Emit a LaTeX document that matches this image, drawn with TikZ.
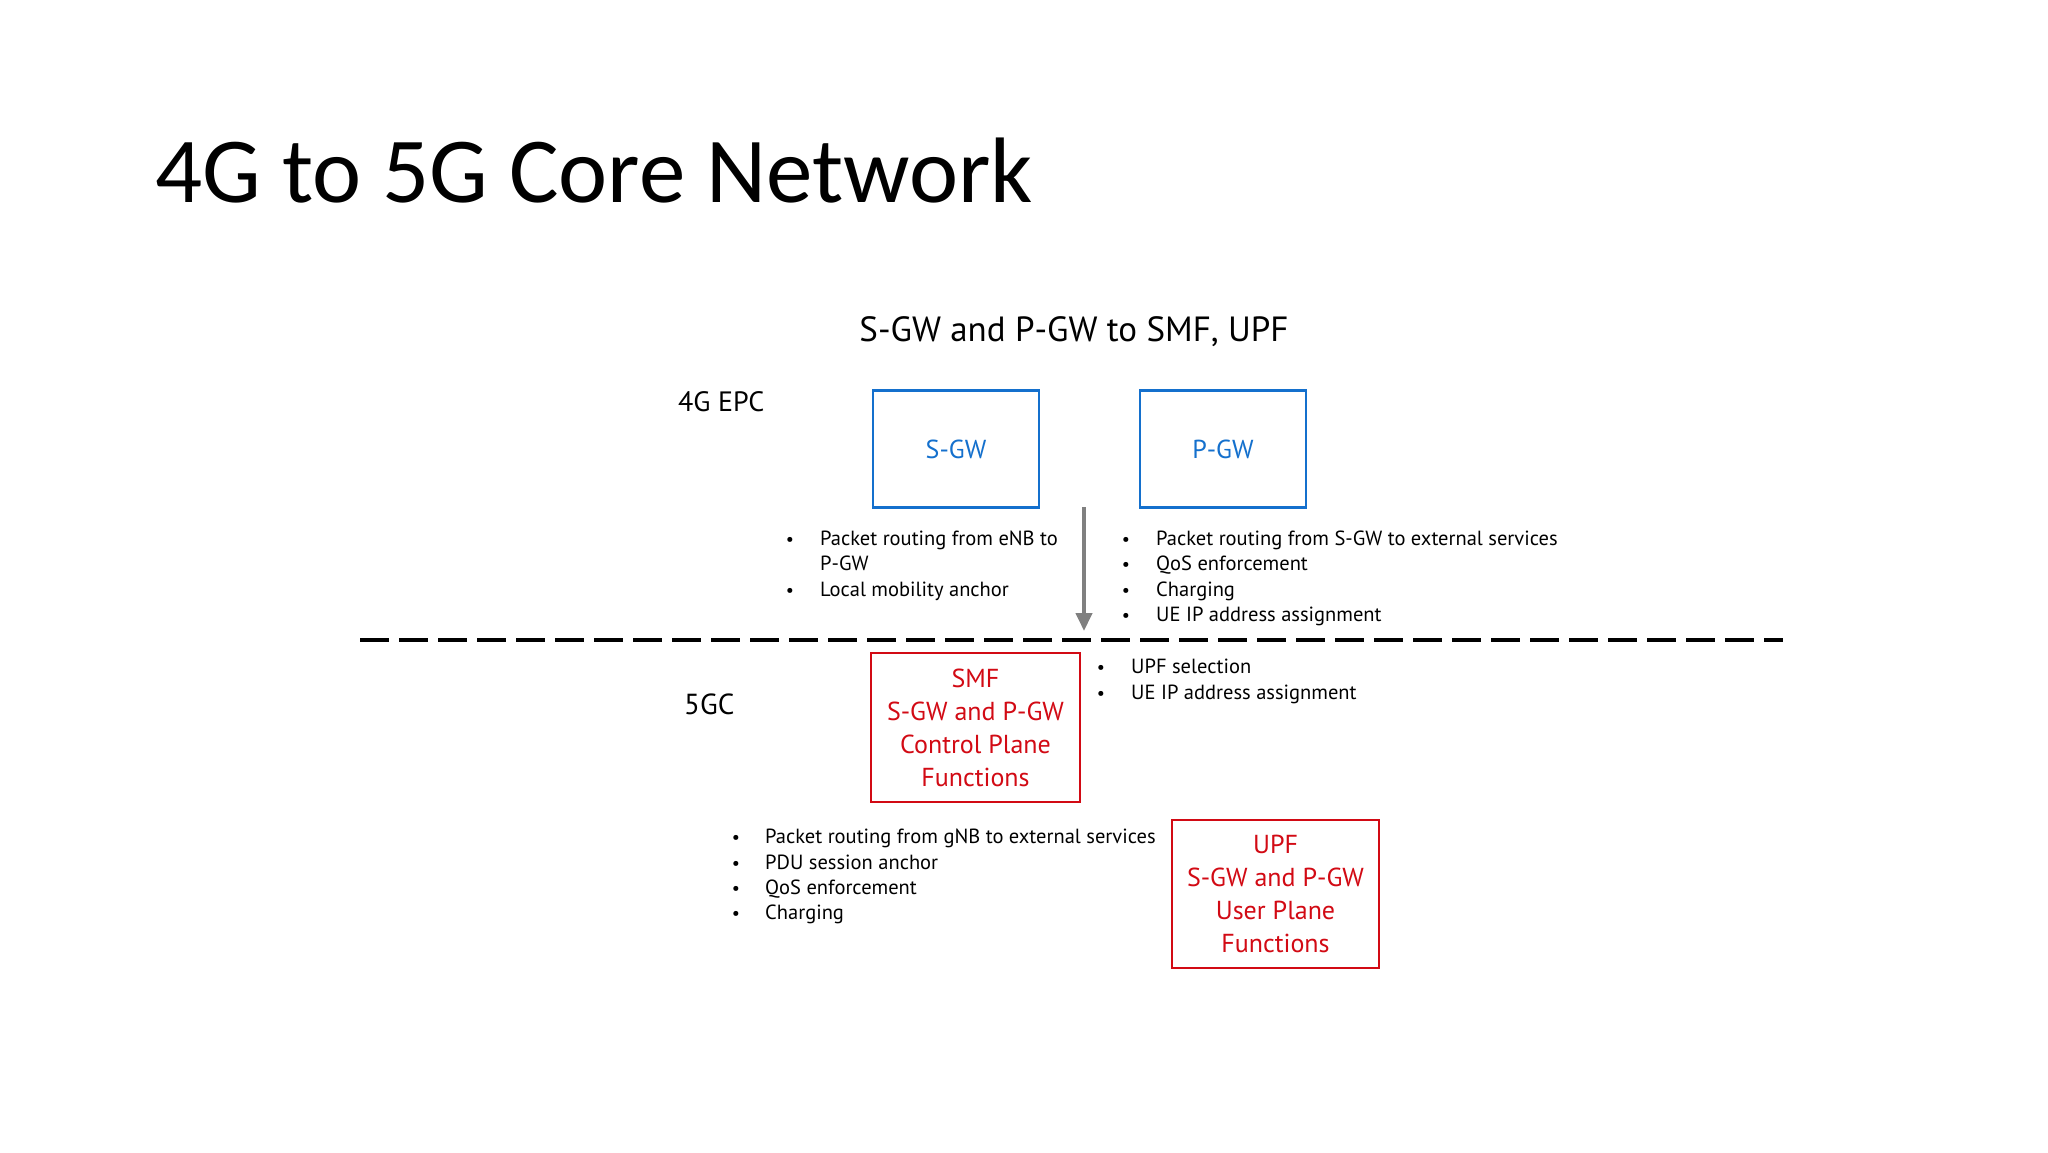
\documentclass[tikz,border=0pt]{standalone}
\usepackage{fontspec}
\setmainfont{PT Sans}
\newfontfamily\titlefont{Carlito}
\usetikzlibrary{arrows.meta}
\definecolor{boxblue}{RGB}{20,112,205}
\definecolor{boxred}{RGB}{210,10,20}
\definecolor{arrgray}{RGB}{128,128,128}
\tikzset{
  bodytxt/.style={anchor=mid west,inner sep=0pt,font=\fontsize{20.5}{25}\selectfont},
  bul/.style={anchor=mid,inner sep=0pt,font=\fontsize{18}{25}\selectfont},
  bluebox/.style={draw=boxblue,line width=2.5pt,minimum width=166pt,minimum height=117pt,text=boxblue,font=\fontsize{26}{33}\selectfont},
  redbox/.style={draw=boxred,line width=2.5pt,text=boxred,align=center,inner sep=0pt,font=\fontsize{26}{33}\selectfont},
}
\begin{document}
\begin{tikzpicture}[x=1pt,y=-1pt]
\useasboundingbox (0,0) rectangle (2048,1152);
\fill[white] (0,0) rectangle (2048,1152);
% title
\node[anchor=base west,inner sep=0pt,font=\titlefont\fontsize{93}{100}\selectfont] (title) at (155,202) {4G to 5G Core Network};
\node[anchor=mid,inner sep=0pt,font=\fontsize{35}{40}\selectfont] (sub) at (1074,339) {S-GW and P-GW to SMF, UPF};
% labels
\node[anchor=mid west,inner sep=0pt,font=\fontsize{28}{30}\selectfont] (epc) at (678,409) {4G EPC};
\node[anchor=mid west,inner sep=0pt,font=\fontsize{29}{30}\selectfont] (fgc) at (684,712) {5GC};
% 4G boxes
\node[bluebox] (sgw) at (956,449) {S-GW};
\node[bluebox] (pgw) at (1223,449) {P-GW};
% arrow
\coordinate (atop) at (1084,507);
\coordinate (abot) at (1084,631);
\draw[arrgray,line width=4pt,-{Triangle[width=16pt,length=18pt]}] (atop) -- (abot);
% dashed divider
\coordinate (dl) at (360,640);
\coordinate (dr) at (1783,640);
\draw[black,line width=4pt,dash pattern=on 29pt off 10pt] (dl) -- (dr);
% S-GW bullets
\node[bul] (sb1) at (790,543) {•};
\node[bodytxt] (st1) at (820,543) {Packet routing from eNB to};
\node[bodytxt] (st1b) at (820,568) {P-GW};
\node[bul] (sb2) at (790,594) {•};
\node[bodytxt] (st2) at (820,594) {Local mobility anchor};
% P-GW bullets
\node[bul] (pb1) at (1126,543) {•};
\node[bodytxt] (pt1) at (1156,543) {Packet routing from S-GW to external services};
\node[bul] (pb2) at (1126,568) {•};
\node[bodytxt] (pt2) at (1156,568) {QoS enforcement};
\node[bul] (pb3) at (1126,594) {•};
\node[bodytxt] (pt3) at (1156,594) {Charging};
\node[bul] (pb4) at (1126,619) {•};
\node[bodytxt] (pt4) at (1156,619) {UE IP address assignment};
% SMF
\node[redbox,minimum width=209pt,minimum height=149pt] (smf) at (975.5,727.5) {SMF\\S-GW and P-GW\\Control Plane\\Functions};
\node[bul] (mb1) at (1101,671) {•};
\node[bodytxt] (mt1) at (1131,671) {UPF selection};
\node[bul] (mb2) at (1101,697) {•};
\node[bodytxt] (mt2) at (1131,697) {UE IP address assignment};
% UPF
\node[redbox,minimum width=207pt,minimum height=148pt] (upf) at (1275.5,894) {UPF\\S-GW and P-GW\\User Plane\\Functions};
\node[bul] (ub1) at (736,841) {•};
\node[bodytxt] (ut1) at (765,841) {Packet routing from gNB to external services};
\node[bul] (ub2) at (736,867) {•};
\node[bodytxt] (ut2) at (765,867) {PDU session anchor};
\node[bul] (ub3) at (736,892) {•};
\node[bodytxt] (ut3) at (765,892) {QoS enforcement};
\node[bul] (ub4) at (736,917) {•};
\node[bodytxt] (ut4) at (765,917) {Charging};
\end{tikzpicture}
\end{document}
